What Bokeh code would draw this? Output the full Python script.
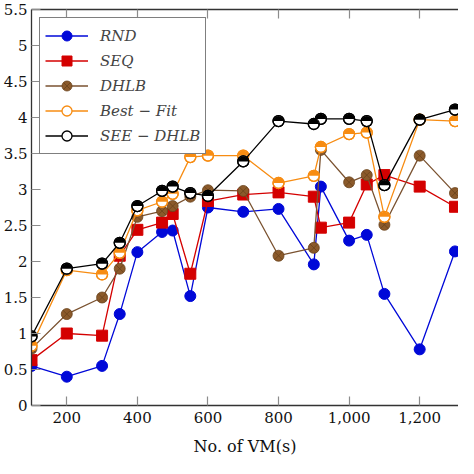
import numpy as np
from bokeh.plotting import figure
from bokeh.models import (Range1d, LinearAxis, FixedTicker, NumeralTickFormatter,
                          Legend, LegendItem)
from bokeh.embed import file_html
from bokeh.resources import INLINE

# ---- data ----
vms = [100, 200, 300, 350, 400, 470, 500, 550, 600, 700, 800, 900, 920, 1000, 1050, 1100, 1200, 1300]
rnd = [0.55, 0.40, 0.55, 1.27, 2.13, 2.41, 2.43, 1.52, 2.75, 2.69, 2.73, 1.96, 3.04, 2.29, 2.37, 1.55, 0.78, 2.14]
seq = [0.63, 1.00, 0.97, 2.08, 2.44, 2.54, 2.66, 1.83, 2.84, 2.93, 2.96, 2.90, 2.47, 2.54, 3.07, 3.20, 3.04, 2.76]
dhlb = [0.79, 1.27, 1.50, 1.90, 2.62, 2.70, 2.77, 2.90, 2.99, 2.98, 2.08, 2.19, 3.55, 3.10, 3.20, 2.51, 3.47, 2.95]
best_fit = [0.83, 1.88, 1.82, 2.12, 2.71, 2.83, 2.94, 3.45, 3.47, 3.47, 3.09, 3.19, 3.59, 3.77, 3.79, 2.62, 3.97, 3.95]
see_dhlb = [0.96, 1.90, 1.97, 2.26, 2.77, 2.98, 3.04, 2.95, 2.91, 3.39, 3.95, 3.91, 3.98, 3.98, 3.95, 3.06, 3.97, 4.11]

x_ticks = [200, 400, 600, 800, 1000, 1200]
y_ticks = [0, 0.5, 1, 1.5, 2, 2.5, 3, 3.5, 4, 4.5, 5, 5.5]
labels = ["RND", "SEQ", "DHLB", "Best \u2212 Fit", "SEE \u2212 DHLB"]
x_label = "No. of VM(s)"

BLUE = "#0008d8"
RED = "#d40000"
BROWN = "#8b5a2b"
BROWN_DARK = "#6a421c"
ORANGE = "#f78c12"
BLACK = "#000000"
FONT = "DejaVu Serif"
AX = "#333333"
TICK = "#8c8c8c"

p = figure(width=458, height=458, output_backend="svg", toolbar_location=None,
           x_range=Range1d(100, 1310), y_range=Range1d(0, 5.5),
           min_border=0, min_border_left=0, min_border_right=0,
           min_border_top=9, min_border_bottom=0)
p.outline_line_color = None
p.xgrid.grid_line_color = None
p.ygrid.grid_line_color = None

for ax in (p.xaxis[0], p.yaxis[0]):
    ax.axis_line_color = AX
    ax.axis_line_width = 1.3
    ax.major_tick_in = 9
    ax.major_tick_out = 0
    ax.major_tick_line_color = TICK
    ax.major_tick_line_width = 1.2
    ax.minor_tick_line_color = None
    ax.major_label_text_font = FONT
    ax.major_label_text_font_size = "15px"
    ax.major_label_text_color = "#111111"

p.xaxis.ticker = FixedTicker(ticks=x_ticks)
p.xaxis.formatter = NumeralTickFormatter(format="0,0")
p.xaxis.major_label_standoff = 6
p.xaxis.axis_label = x_label
p.xaxis.axis_label_text_font = FONT
p.xaxis.axis_label_text_font_style = "normal"
p.xaxis.axis_label_text_font_size = "16px"
p.xaxis.axis_label_text_color = "#111111"
p.xaxis.axis_label_standoff = 11

p.yaxis.ticker = FixedTicker(ticks=y_ticks)
p.yaxis.formatter = NumeralTickFormatter(format="0.[0]")
p.yaxis.major_label_standoff = 4

top = LinearAxis(ticker=FixedTicker(ticks=x_ticks), major_label_text_font_size="1px",
                 major_label_text_color=None,
                 major_label_standoff=0, major_tick_in=9, major_tick_out=0,
                 major_tick_line_color=TICK, major_tick_line_width=1.2,
                 minor_tick_line_color=None, axis_line_color=AX, axis_line_width=1.3)
p.add_layout(top, "above")

LW = 1.3
SZ = 11

# RND
l1 = p.line(vms, rnd, line_color=BLUE, line_width=LW)
m1 = p.scatter(vms, rnd, marker="circle", size=SZ, fill_color=BLUE, line_color=BLUE)
# SEQ
l2 = p.line(vms, seq, line_color=RED, line_width=LW)
m2 = p.scatter(vms, seq, marker="square", size=SZ, fill_color=RED, line_color=RED)
# DHLB
l3 = p.line(vms, dhlb, line_color="#7a5230", line_width=LW)
m3 = p.scatter(vms, dhlb, marker="circle_x", size=SZ, fill_color=BROWN, line_color=BROWN_DARK,
               line_width=0.8)
# Best-Fit
l4 = p.line(vms, best_fit, line_color=ORANGE, line_width=LW)
m4 = p.scatter(vms, best_fit, marker="circle", size=SZ, fill_color="white", line_color=ORANGE,
               line_width=LW)
p.wedge(vms, best_fit, radius=5.2, radius_units="screen", start_angle=0, end_angle=np.pi,
        fill_color=ORANGE, line_color=None)
p.scatter(vms, best_fit, marker="circle", size=SZ, fill_alpha=0, line_color=ORANGE, line_width=LW)
# SEE-DHLB
l5 = p.line(vms, see_dhlb, line_color=BLACK, line_width=LW)
m5 = p.scatter(vms, see_dhlb, marker="circle", size=SZ, fill_color="white", line_color=BLACK,
               line_width=LW)
p.wedge(vms, see_dhlb, radius=5.2, radius_units="screen", start_angle=0, end_angle=np.pi,
        fill_color=BLACK, line_color=None)
p.scatter(vms, see_dhlb, marker="circle", size=SZ, fill_alpha=0, line_color=BLACK, line_width=LW)

legend = Legend(items=[
    LegendItem(label=labels[0], renderers=[l1, m1]),
    LegendItem(label=labels[1], renderers=[l2, m2]),
    LegendItem(label=labels[2], renderers=[l3, m3]),
    LegendItem(label=labels[3], renderers=[l4, m4]),
    LegendItem(label=labels[4], renderers=[l5, m5]),
], location="top_left")
legend.label_text_font = FONT
legend.label_text_font_style = "italic"
legend.label_text_font_size = "15px"
legend.border_line_color = BLACK
legend.border_line_width = 1.2
legend.background_fill_color = "white"
legend.background_fill_alpha = 1
legend.glyph_width = 43
legend.glyph_height = 25
legend.label_height = 25
legend.label_width = 100
legend.label_standoff = 12
legend.spacing = 0
legend.padding = 5
legend.margin = 8
p.add_layout(legend)

open("out.html", "w").write(file_html(p, INLINE))
